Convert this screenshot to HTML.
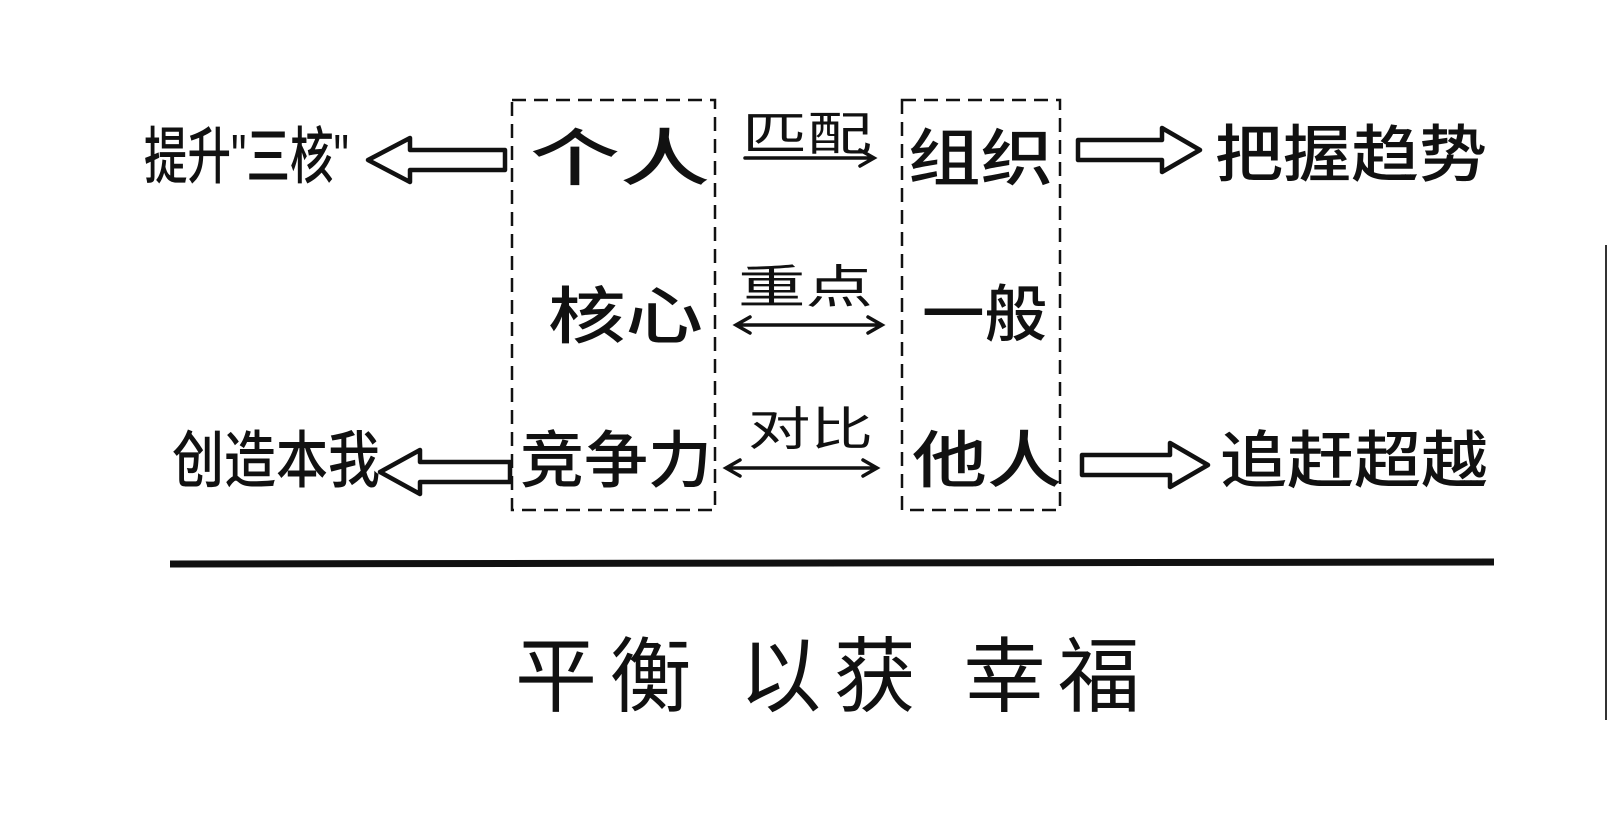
<!DOCTYPE html>
<html><head><meta charset="utf-8"><style>
html,body{margin:0;padding:0;background:#fff;}
svg{display:block;}
text{font-family:"Liberation Sans","Noto Sans CJK SC",sans-serif;fill:#111;}
</style></head><body>
<svg width="1615" height="825" viewBox="0 0 1615 825" xmlns="http://www.w3.org/2000/svg">
<rect width="1615" height="825" fill="#fff"/>
<g font-size="62" font-weight="500">
<text x="144" y="178" textLength="205" lengthAdjust="spacingAndGlyphs">提升"三核"</text>
<text x="530" y="180" textLength="180" lengthAdjust="spacingAndGlyphs">个人</text>
<text x="908" y="180" textLength="145" lengthAdjust="spacingAndGlyphs">组织</text>
<text x="1215" y="176" textLength="272" lengthAdjust="spacingAndGlyphs">把握趋势</text>
<text x="548" y="338" textLength="155" lengthAdjust="spacingAndGlyphs">核心</text>
<text x="922" y="336" textLength="125" lengthAdjust="spacingAndGlyphs">一般</text>
<text x="172" y="482" textLength="208" lengthAdjust="spacingAndGlyphs">创造本我</text>
<text x="520" y="482" textLength="192" lengthAdjust="spacingAndGlyphs">竞争力</text>
<text x="912" y="482" textLength="150" lengthAdjust="spacingAndGlyphs">他人</text>
<text x="1220" y="482" textLength="268" lengthAdjust="spacingAndGlyphs">追赶超越</text>
</g>
<g font-size="46">
<text x="742" y="150" textLength="130" lengthAdjust="spacingAndGlyphs">匹配</text>
<text x="738" y="303" textLength="135" lengthAdjust="spacingAndGlyphs">重点</text>
<text x="748" y="445" textLength="125" lengthAdjust="spacingAndGlyphs">对比</text>
</g>
<g font-size="82">
<text x="515" y="705" textLength="625" lengthAdjust="spacing">平衡 以获 幸福</text>
</g>
<g fill="none" stroke="#111" stroke-width="2.5" stroke-dasharray="14 8">
<rect x="512" y="100" width="203" height="410"/>
<rect x="902" y="100" width="158" height="410"/>
</g>
<g fill="none" stroke="#111" stroke-width="4.5" stroke-linejoin="round">
<path d="M505 150 H410 V138 L368 160 L410 182 V170 H505 Z"/>
<path d="M510 462 H420 V450 L380 472 L420 494 V482 H510 Z"/>
<path d="M1078 140 H1162 V128 L1200 150 L1162 172 V160 H1078 Z"/>
<path d="M1082 455 H1170 V443 L1208 465 L1170 487 V475 H1082 Z"/>
</g>
<g fill="none" stroke="#111" stroke-width="3.5" stroke-linecap="round">
<path d="M745 158 H872 M860 150 L874 158 L860 166"/>
<path d="M738 325 H880 M750 317 L736 325 L750 333 M868 317 L882 325 L868 333"/>
<path d="M728 468 H875 M740 460 L726 468 L740 476 M863 460 L877 468 L863 476"/>
</g>
<line x1="170" y1="564" x2="1494" y2="562" stroke="#111" stroke-width="7"/>
<line x1="1606" y1="245" x2="1606" y2="720" stroke="#333" stroke-width="2"/>
</svg>
</body></html>
